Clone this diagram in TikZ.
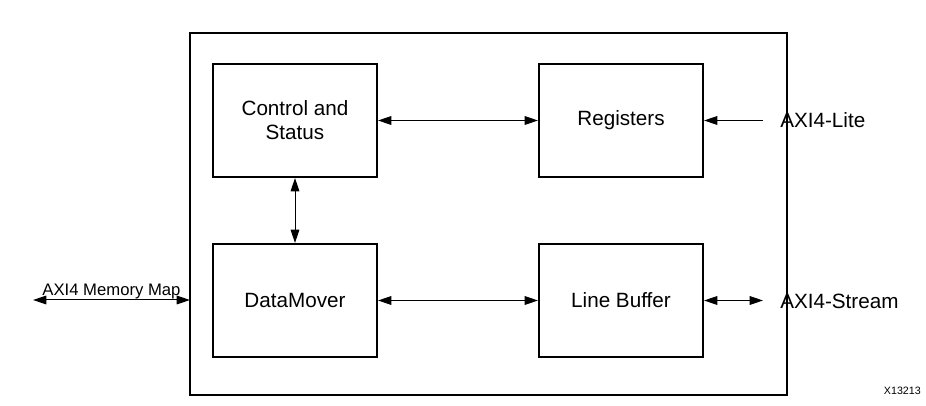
\documentclass[tikz,border=0pt]{standalone}
\usepackage{fontspec}
\setmainfont{Liberation Sans}
\usetikzlibrary{arrows.meta,calc}

\begin{document}
\begin{tikzpicture}[x=0.75pt,y=-0.75pt,
  blk/.style={draw,line width=1.5pt,minimum width=164*0.75pt,minimum height=113*0.75pt,
    align=center,font=\fontsize{15.5}{18}\selectfont,inner sep=0pt},
  link/.style={line width=0.75pt,{Triangle[length=10pt,width=6.5pt]}-{Triangle[length=10pt,width=6.5pt]}},
  feed/.style={line width=0.75pt,-{Triangle[length=10pt,width=6.5pt]}},
  lbl/.style={font=\fontsize{15.5}{18}\selectfont,anchor=west,inner sep=0pt}]
\useasboundingbox (0,0) rectangle (926,406);

\draw[line width=1.5pt] (190,33) rectangle (787,395);

\node[blk] (ctrl) at (295,120.5) {Control and\\Status};
\node[blk] (regs) at (621,120.5) {Registers};
\node[blk] (dmov) at (295,300.5) {DataMover};
\node[blk] (lbuf) at (621,300.5) {Line Buffer};

\coordinate (mmEnd) at (33,300);
\coordinate (mmIn) at (190,300);
\coordinate (liteEnd) at (763,120.5);
\coordinate (strEnd) at (763,300.5);

\draw[link] (ctrl) -- (regs);
\draw[link] (ctrl) -- (dmov);
\draw[link] (dmov) -- (lbuf);
\draw[feed] (liteEnd) -- (regs);
\draw[link] (lbuf) -- (strEnd);
\draw[link] (mmEnd) -- (mmIn);

\node[lbl] (lite) at (780,120) {AXI4-Lite};
\node[lbl] (strm) at (780,301) {AXI4-Stream};
\node[font=\fontsize{12.5}{14}\selectfont,inner sep=0pt] (mmap) at (111.5,291) {AXI4 Memory Map};
\node[font=\fontsize{8}{9}\selectfont,anchor=east,inner sep=0pt] (fig) at (921,391) {X13213};

\end{tikzpicture}
\end{document}
